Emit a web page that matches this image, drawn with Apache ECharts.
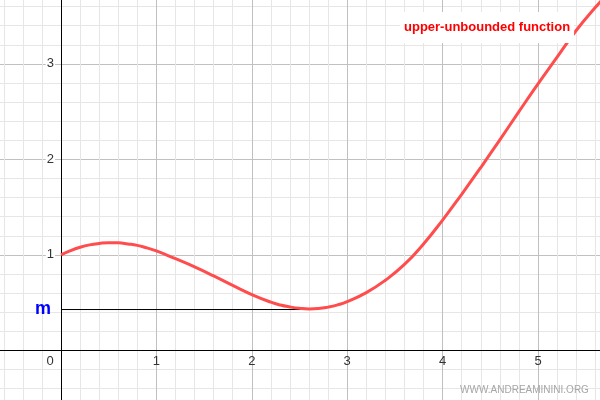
<!DOCTYPE html>
<html>
<head>
<meta charset="utf-8">
<script src="https://cdn.jsdelivr.net/npm/echarts@6/dist/echarts.min.js"></script>
<style>
  html, body { margin: 0; padding: 0; background: #fff; }
  #chart { width: 600px; height: 400px; }
</style>
</head>
<body>
<div id="chart"></div>
<script>
// curve samples
var xs = [0, 0.1, 0.2, 0.3, 0.4, 0.5, 0.6, 0.7, 0.8, 0.9, 1.0, 1.2, 1.4, 1.6, 1.8, 2.0,
          2.2, 2.3, 2.4, 2.5, 2.6, 2.7, 2.8, 2.9, 3.0, 3.2, 3.4, 3.6, 3.8, 4.0,
          4.2, 4.4, 4.6, 4.8, 5.0, 5.2, 5.4, 5.6, 5.7];
var ys = [1.00, 1.045, 1.08, 1.105, 1.12, 1.128, 1.126, 1.115, 1.10, 1.073, 1.042, 0.96, 0.875, 0.78, 0.68, 0.585,
          0.505, 0.475, 0.455, 0.441, 0.434, 0.438, 0.453, 0.477, 0.511, 0.605, 0.735, 0.90, 1.115, 1.365,
          1.635, 1.915, 2.205, 2.50, 2.79, 3.07, 3.35, 3.59, 3.70];
var minX = 2.6;
var minY = 0.428;
var xLabels = [0, 1, 2, 3, 4, 5];
var yLabels = [1, 2, 3];
var titleText = 'upper-unbounded function';
var watermark = 'WWW.ANDREAMININI.ORG';

var chart = echarts.init(document.getElementById('chart'));

var curve = xs.map(function (x, i) { return [x, ys[i]]; });

var labelFont = { color: '#333', fontSize: 13, fontFamily: 'Liberation Sans' };

var option = {
  backgroundColor: '#fff',
  animation: false,
  title: [{
    text: titleText,
    left: 400,
    top: 12,
    padding: [9, 4],
    backgroundColor: '#fff',
    textStyle: { color: '#ff0000', fontSize: 13, fontWeight: 'bold', fontFamily: 'Liberation Sans' }
  }, {
    text: watermark,
    left: 460,
    top: 385,
    padding: 0,
    textStyle: { color: '#a6a6a6', fontSize: 10, fontWeight: 'normal', fontFamily: 'Liberation Sans' }
  }],
  grid: [
    // main grid runs past the window on every side, x 0 -> px 61, y 0 -> px 350
    { left: -34.4, right: -33.4, top: -31.6, bottom: -45.9, outerBoundsMode: 'none' },
    // label grid: its left/bottom edges sit on the axes
    { left: 61, right: -33.4, top: -31.6, bottom: 50, outerBoundsMode: 'none' }
  ],
  xAxis: [{
    type: 'value', gridIndex: 0,
    min: -1, max: 6, interval: 1,
    axisLine: { onZero: true, lineStyle: { color: '#000', width: 1 } },
    axisTick: { show: false },
    axisLabel: { show: false },
    minorTick: { show: false, splitNumber: 5 },
    minorSplitLine: { show: true, lineStyle: { color: '#e6e6e6', width: 1 } },
    splitLine: { show: true, lineStyle: { color: '#c0c0c0', width: 1 } }
  }, {
    type: 'value', gridIndex: 1,
    min: 0, max: 6, interval: 1,
    axisLine: { show: false },
    axisTick: { show: false },
    splitLine: { show: false },
    axisLabel: Object.assign({
      margin: 5,
      formatter: function (v) {
        if (xLabels.indexOf(v) < 0) return '';
        return v === 0 ? '{z|0}' : String(v);
      },
      rich: { z: Object.assign({ padding: [0, 22, 0, 0] }, labelFont) }
    }, labelFont)
  }],
  yAxis: [{
    type: 'value', gridIndex: 0,
    min: -1, max: 4, interval: 1,
    axisLine: { onZero: true, lineStyle: { color: '#000', width: 1 } },
    axisTick: { show: false },
    axisLabel: { show: false },
    minorTick: { show: false, splitNumber: 5 },
    minorSplitLine: { show: true, lineStyle: { color: '#e6e6e6', width: 1 } },
    splitLine: { show: true, lineStyle: { color: '#c0c0c0', width: 1 } }
  }, {
    type: 'value', gridIndex: 1,
    min: 0, max: 4, interval: 1,
    axisLine: { show: false },
    axisTick: { show: false },
    splitLine: { show: false },
    axisLabel: Object.assign({
      margin: 6,
      backgroundColor: '#fff',
      padding: [0, 1],
      formatter: function (v) { return yLabels.indexOf(v) < 0 ? '' : String(v); }
    }, labelFont)
  }],
  series: [{
    type: 'line',
    xAxisIndex: 0, yAxisIndex: 0,
    data: [{
      value: [0, minY],
      label: {
        show: true, position: 'left', distance: 10,
        formatter: 'm', color: '#0000ff', fontSize: 18, fontWeight: 'bold', fontFamily: 'Liberation Sans'
      }
    }, [minX, minY]],
    symbol: 'circle',
    symbolSize: 0,
    showSymbol: true,
    lineStyle: { color: '#000', width: 1 },
    z: 3
  }, {
    type: 'line',
    xAxisIndex: 0, yAxisIndex: 0,
    data: curve,
    smooth: 0.5,
    symbol: 'none',
    lineStyle: { color: '#ff4d4d', width: 3 },
    z: 4
  }]
};

chart.setOption(option);
</script>
</body>
</html>
